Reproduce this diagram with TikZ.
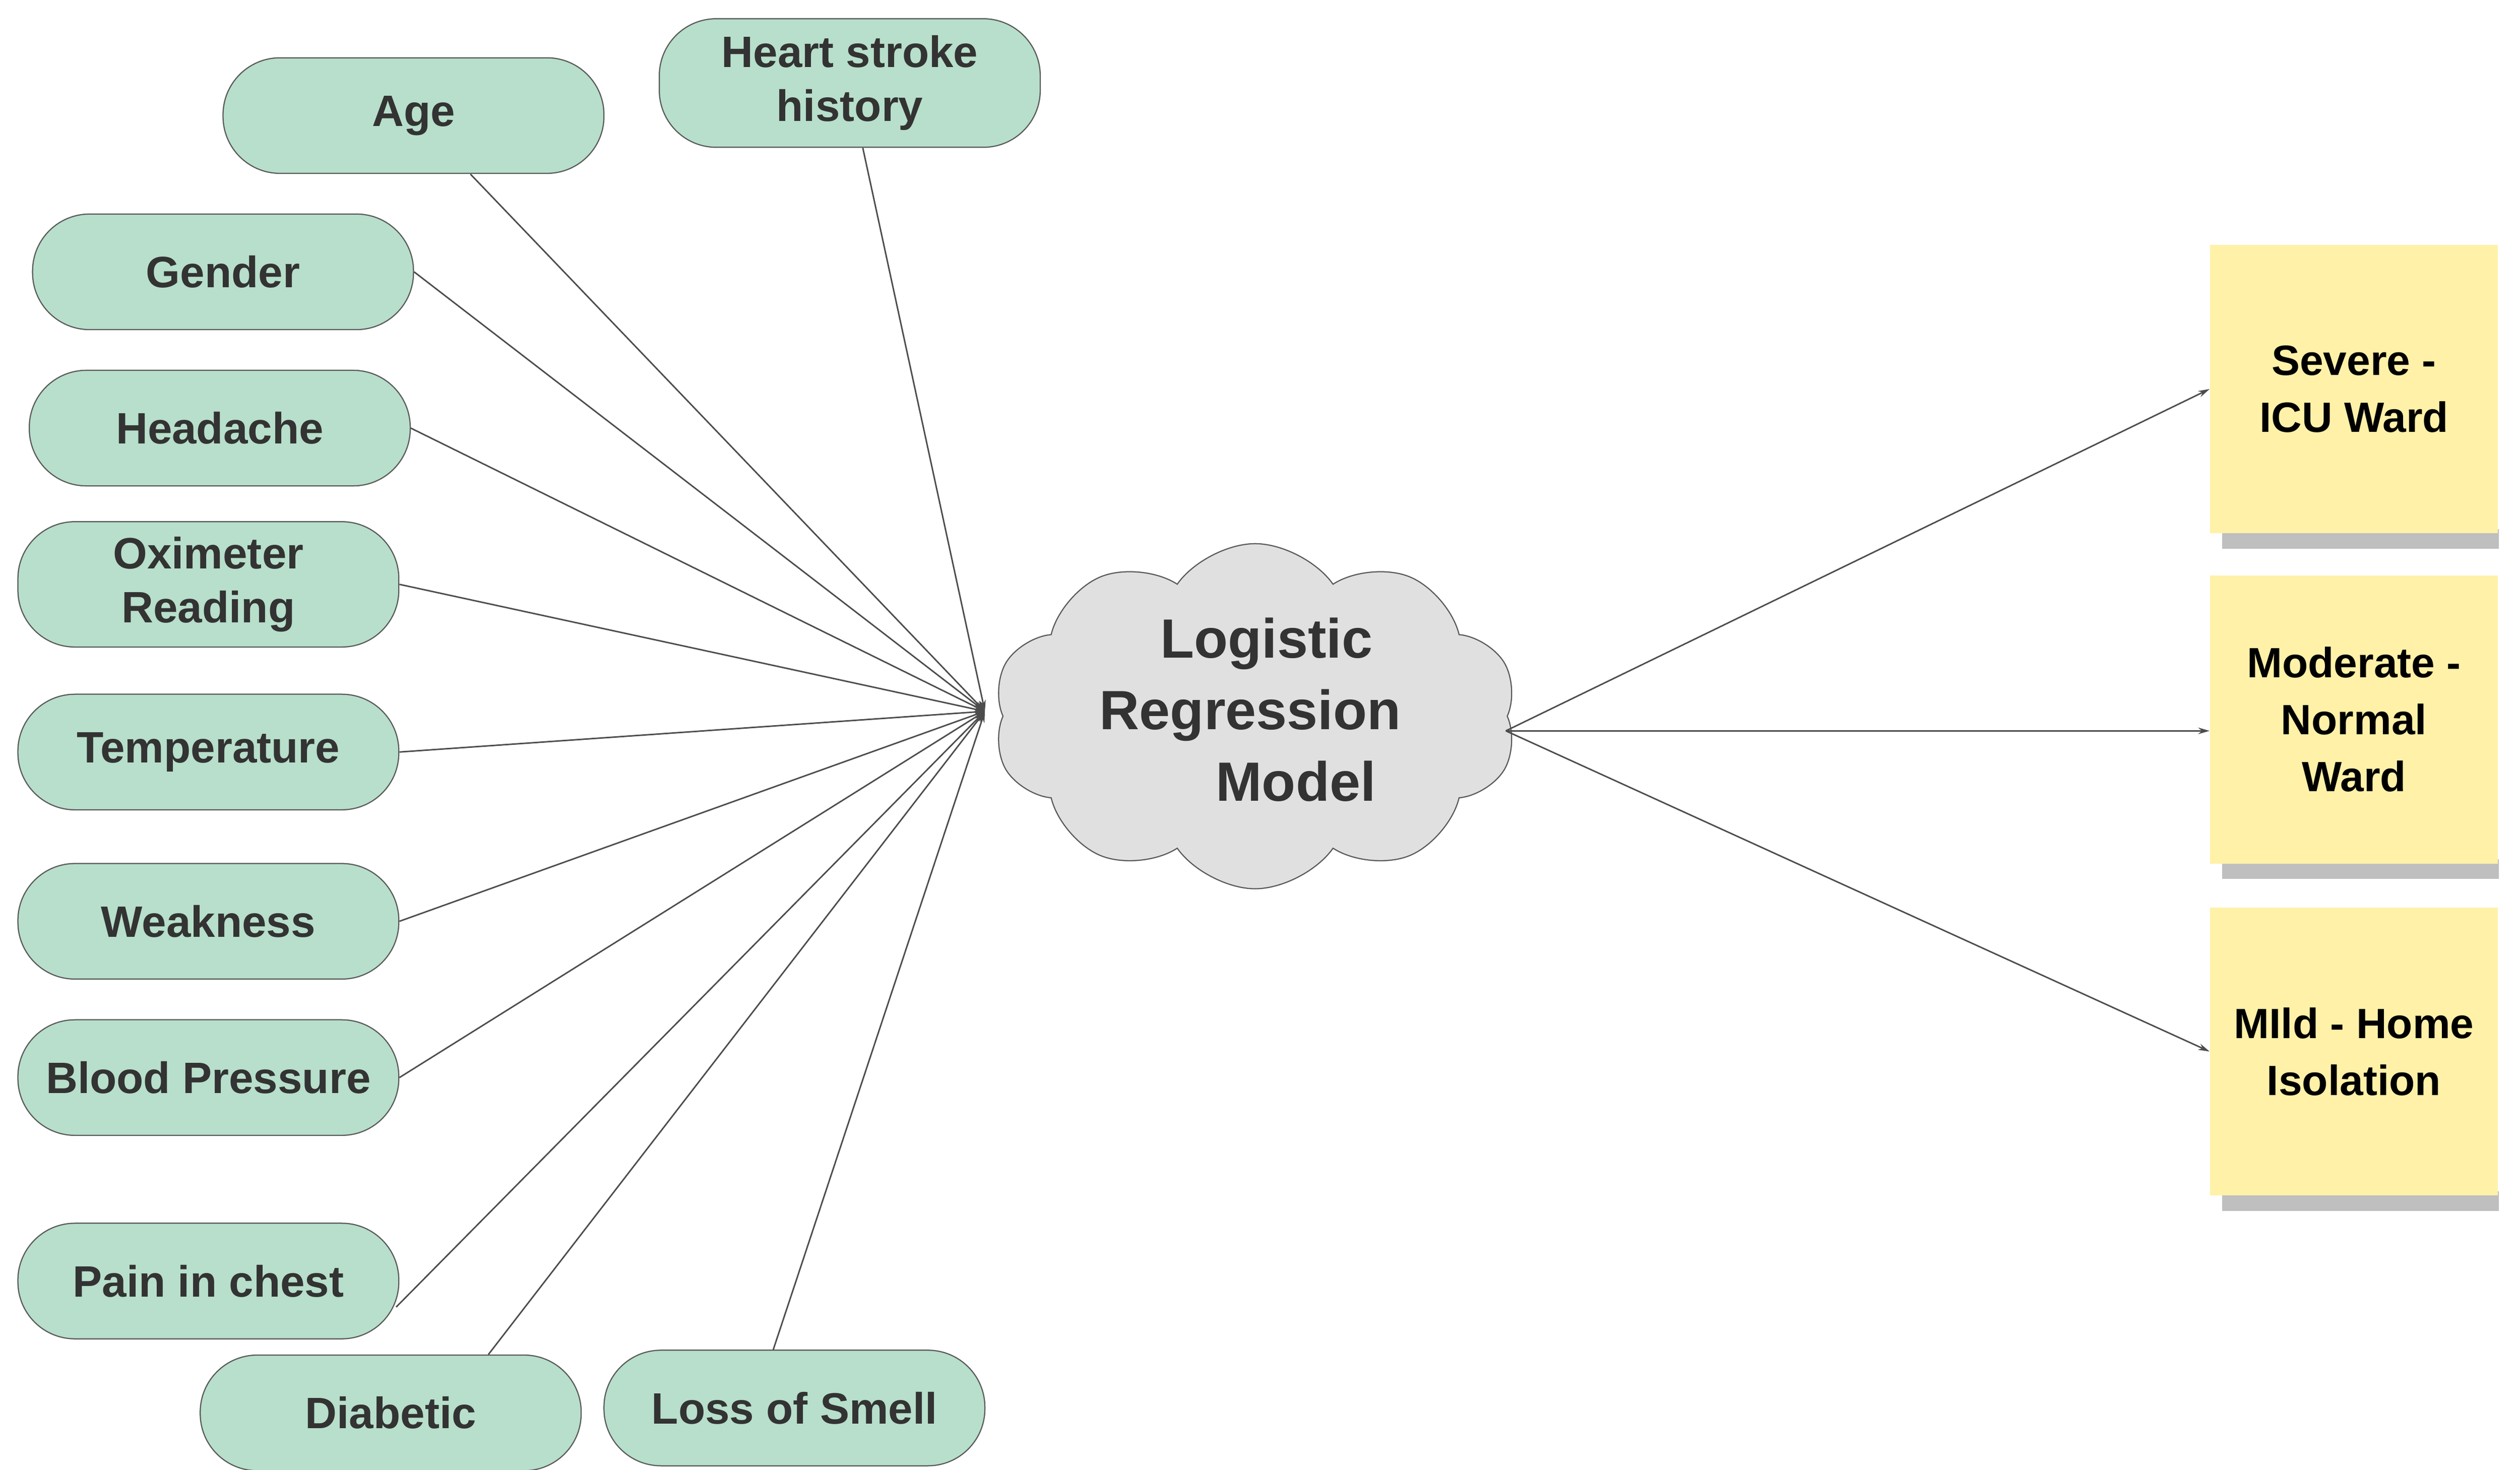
\documentclass[tikz,border=0pt]{standalone}
\usepackage{fontspec}
\setmainfont{Liberation Sans}
\usetikzlibrary{shapes.symbols,arrows.meta}
\definecolor{inp}{HTML}{B7DFCB}
\definecolor{stk}{HTML}{FFF1A8}
\definecolor{txt}{HTML}{333333}
\begin{document}
\begin{tikzpicture}[x=1pt,y=-1pt,
  feat/.style={draw=black!65,line width=0.7pt,fill=inp,rounded corners=35pt,minimum width=234pt,minimum height=71pt,align=center,font=\fontsize{27}{33}\selectfont\bfseries,text=txt,inner sep=2pt},
  note/.style={fill=stk,minimum width=177pt,minimum height=177pt,align=center,font=\fontsize{26}{35}\selectfont\bfseries,inner sep=2pt},
  shad/.style={fill=black!25,minimum width=170pt,minimum height=12pt,inner sep=0pt},
  con/.style={draw=black!70,line width=0.9pt,-{Stealth[length=7pt,width=4pt]}}]
\useasboundingbox (0,0) rectangle (1548,903);
\node[feat] (age) at (254,71) {Age};
\node[feat,minimum height=79pt] (heart) at (522,51) {Heart stroke\\history};
\node[feat] (gender) at (137,167) {Gender};
\node[feat] (head) at (135,263) {Headache};
\node[feat,minimum height=77pt] (oxi) at (128,359) {Oximeter\\Reading};
\node[feat] (temp) at (128,462) {Temperature};
\node[feat] (weak) at (128,566) {Weakness};
\node[feat] (bp) at (128,662) {Blood Pressure};
\node[feat] (pain) at (128,787) {Pain in chest};
\node[feat] (diab) at (240,868) {Diabetic};
\node[feat] (loss) at (488,865) {Loss of Smell};
\node[cloud,cloud puffs=10,cloud puff arc=110,aspect=1.5,draw=black!65,line width=0.7pt,fill=black!12,minimum width=322pt,minimum height=212pt,inner sep=0pt] (cloud) at (771,440) {};
\node[align=center,font=\fontsize{34}{44}\selectfont\bfseries,text=txt] (lbl) at (768,436) {\hspace*{20pt}Logistic\\Regression\\\hspace*{56pt}Model};
\coordinate (hub) at (605,437);
\coordinate (out) at (925,449);
\foreach \n/\y in {sev/239,mod/442,mild/646}{
  \node[shad] at (1450,\y+92) {};
}
\node[note] (sev) at (1446,239) {Severe -\\ICU Ward};
\node[note] (mod) at (1446,442) {Moderate -\\Normal\\Ward};
\node[note] (mild) at (1446,646) {MIld - Home\\Isolation};
\draw[con] (289,107) -- (hub);
\draw[con] (heart.south) ++(8pt,0) -- (hub);
\draw[con] (gender.east) -- (hub);
\draw[con] (head.east) -- (hub);
\draw[con] (oxi.east) -- (hub);
\draw[con] (temp.east) -- (hub);
\draw[con] (weak.east) -- (hub);
\draw[con] (bp.east) -- (hub);
\draw[con] (pain.east) ++(-2pt,-16pt) -- (hub);
\draw[con] (diab.north) ++(60pt,0) -- (hub);
\draw[con] (loss.north) ++(-13pt,0) -- (hub);
\draw[con] (out) -- (sev.west);
\draw[con] (out) -- (mod.west |- out);
\draw[con] (out) -- (mild.west);
\end{tikzpicture}
\end{document}
